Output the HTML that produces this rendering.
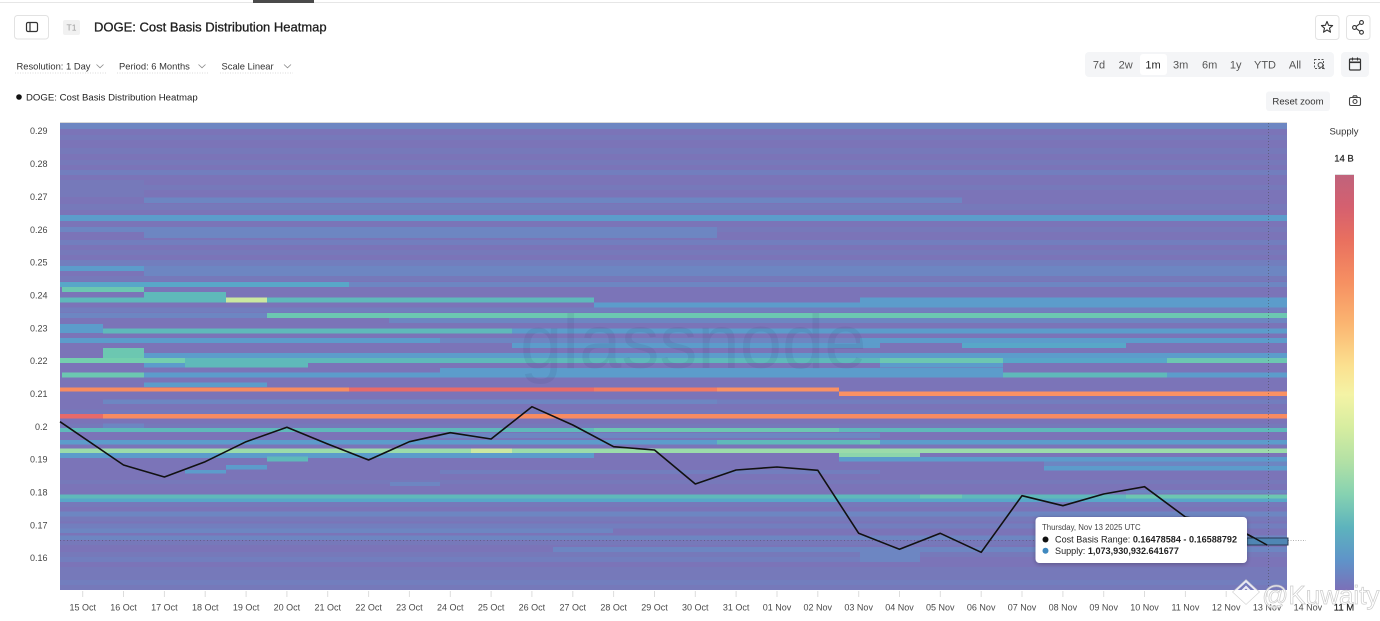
<!DOCTYPE html>
<html><head><meta charset="utf-8">
<style>
html,body{margin:0;padding:0;background:#fff;}
body{width:1380px;height:621px;overflow:hidden;position:relative;font-family:"Liberation Sans",sans-serif;}
svg{position:absolute;left:0;top:0;}
.P{fill:#7b74b8}.P2{fill:#7679ba}.P3{fill:#727ebe}.B1{fill:#6d86c2}.B2{fill:#5c9ccb}.B3{fill:#58a7c8}
.T{fill:#5fb9ba}.G{fill:#6cc7b1}.G2{fill:#74cfae}.LG{fill:#9bdbaa}.LG2{fill:#8dd6ab}.Y{fill:#cbe8a0}
.O{fill:#f88b60}.O2{fill:#fa9163}.OR{fill:#f27a63}.R{fill:#e86a69}
text{font-family:"Liberation Sans",sans-serif;}
</style></head><body>
<svg width="1380" height="621" viewBox="0 0 1380 621" xmlns="http://www.w3.org/2000/svg">
<defs>
<linearGradient id="cb" x1="0" y1="0" x2="0" y2="1">
<stop offset="0" stop-color="#bf637c"/>
<stop offset="0.08" stop-color="#d5606f"/>
<stop offset="0.16" stop-color="#e9705f"/>
<stop offset="0.26" stop-color="#f69062"/>
<stop offset="0.36" stop-color="#fbb571"/>
<stop offset="0.46" stop-color="#fbe08f"/>
<stop offset="0.53" stop-color="#f4f3a5"/>
<stop offset="0.61" stop-color="#d6eda0"/>
<stop offset="0.69" stop-color="#b3e1a5"/>
<stop offset="0.77" stop-color="#86d2b1"/>
<stop offset="0.85" stop-color="#5db3bd"/>
<stop offset="0.93" stop-color="#5f93c9"/>
<stop offset="1" stop-color="#7b70b8"/>
</linearGradient>
<filter id="sh" x="-10%" y="-20%" width="120%" height="150%">
<feDropShadow dx="0" dy="1" stdDeviation="2.5" flood-color="#000" flood-opacity="0.28"/>
</filter>
</defs>

<!-- top border -->
<rect x="0" y="2" width="1380" height="1" fill="#e6e6e6"/>
<rect x="253" y="0" width="61" height="3" fill="#4a4a4a"/>

<!-- sidebar button -->
<rect x="14.5" y="15.5" width="34" height="23.5" rx="3" fill="#fff" stroke="#e2e2e2"/>
<rect x="26.5" y="22.5" width="11" height="9" rx="1.5" fill="none" stroke="#333" stroke-width="1.2"/>
<line x1="30" y1="22.5" x2="30" y2="31.5" stroke="#333" stroke-width="1.2"/>
<!-- T1 -->
<rect x="63" y="20" width="17" height="15" rx="2" fill="#f1f1f1"/>
<text x="71.5" y="30.5" font-size="8.5" fill="#999" text-anchor="middle">T1</text>
<text x="94" y="31.7" font-size="13" fill="#1e1e1e" stroke="#1e1e1e" stroke-width="0.3">DOGE: Cost Basis Distribution Heatmap</text>

<!-- star / share -->
<rect x="1315.5" y="15.5" width="23.5" height="24" rx="3" fill="#fff" stroke="#e3e3e3"/>
<polygon points="1327,21.5 1328.6,25.3 1332.6,25.6 1329.5,28.2 1330.5,32.2 1327,30 1323.5,32.2 1324.5,28.2 1321.4,25.6 1325.4,25.3" fill="none" stroke="#333" stroke-width="1.1" stroke-linejoin="round"/>
<rect x="1346.5" y="15.5" width="23.5" height="24" rx="3" fill="#fff" stroke="#e3e3e3"/>
<g fill="none" stroke="#333" stroke-width="1.1">
<circle cx="1361.5" cy="22.5" r="1.9"/><circle cx="1354.5" cy="27.5" r="1.9"/><circle cx="1361.5" cy="32.3" r="1.9"/>
<line x1="1356.2" y1="26.4" x2="1359.8" y2="23.7"/><line x1="1356.2" y1="28.6" x2="1359.8" y2="31.2"/>
</g>

<!-- dropdowns -->
<g font-size="9.4" fill="#333">
<text x="16.5" y="69.5">Resolution: 1 Day</text>
<text x="119" y="69.5">Period: 6 Months</text>
<text x="221.5" y="69.5">Scale Linear</text>
</g>
<g fill="none" stroke="#8a8a8a" stroke-width="0.8">
<polyline points="96.5,64.5 100,67.8 103.5,64.5"/>
<polyline points="198.5,64.5 202,67.8 205.5,64.5"/>
<polyline points="284,64.5 287.5,67.8 291,64.5"/>
</g>
<g stroke="#cfcfcf" stroke-width="0.8" stroke-dasharray="1,1.5">
<line x1="15" y1="73" x2="106" y2="73"/>
<line x1="117" y1="73" x2="208" y2="73"/>
<line x1="220" y1="73" x2="293" y2="73"/>
</g>
<circle cx="19" cy="97" r="2.8" fill="#111"/>
<text x="26" y="100.4" font-size="9.6" fill="#222">DOGE: Cost Basis Distribution Heatmap</text>

<!-- range buttons -->
<rect x="1085" y="52" width="249" height="25" rx="4" fill="#f4f5f7"/>
<rect x="1140" y="54" width="27" height="21" rx="3" fill="#fff"/>
<g font-size="11" fill="#555" text-anchor="middle">
<text x="1099" y="68.5">7d</text>
<text x="1125.7" y="68.5">2w</text>
<text x="1153" y="68.5" fill="#222">1m</text>
<text x="1180.7" y="68.5">3m</text>
<text x="1209.7" y="68.5">6m</text>
<text x="1235.7" y="68.5">1y</text>
<text x="1265" y="68.5">YTD</text>
<text x="1295" y="68.5">All</text>
</g>
<rect x="1314.5" y="59.5" width="9" height="9" fill="none" stroke="#555" stroke-width="1" stroke-dasharray="2,1.5"/>
<circle cx="1320.5" cy="65" r="2.4" fill="#f4f5f7" stroke="#444" stroke-width="1"/>
<line x1="1322.3" y1="66.8" x2="1324.5" y2="69" stroke="#444" stroke-width="1"/>
<rect x="1341" y="52" width="28" height="25" rx="4" fill="#f4f5f7"/>
<rect x="1349.5" y="59" width="11" height="11" rx="1" fill="none" stroke="#333" stroke-width="1.2"/>
<line x1="1349.5" y1="62.3" x2="1360.5" y2="62.3" stroke="#333" stroke-width="1.6"/>
<line x1="1352.5" y1="57.5" x2="1352.5" y2="60.5" stroke="#333" stroke-width="1.1"/>
<line x1="1357.5" y1="57.5" x2="1357.5" y2="60.5" stroke="#333" stroke-width="1.1"/>

<!-- reset zoom & camera -->
<rect x="1266" y="91.5" width="64" height="19.5" rx="3" fill="#f4f5f7"/>
<text x="1298" y="104.6" font-size="9.6" fill="#333" text-anchor="middle">Reset zoom</text>
<rect x="1349.5" y="97.5" width="11" height="8" rx="1.5" fill="none" stroke="#444" stroke-width="1.1"/>
<path d="M1352.5 97.5 L1353.5 95.8 L1356.5 95.8 L1357.5 97.5" fill="none" stroke="#444" stroke-width="1.1"/>
<circle cx="1355" cy="101.5" r="2" fill="none" stroke="#444" stroke-width="1.1"/>

<!-- colorbar -->
<text x="1344" y="134.5" font-size="9.5" fill="#333" text-anchor="middle">Supply</text>
<text x="1344" y="161.5" font-size="9.5" fill="#222" text-anchor="middle" stroke="#222" stroke-width="0.2">14 B</text>
<rect x="1335" y="174" width="19" height="416" fill="url(#cb)"/>
<rect x="1335" y="174" width="19" height="1" fill="#e0e0e0"/>
<text x="1344" y="610.5" font-size="9.5" fill="#222" text-anchor="middle" stroke="#222" stroke-width="0.2">11 M</text>

<!-- plot border top -->
<rect x="60" y="122" width="1227" height="1" fill="#d8d8d8"/>

<!-- HEATMAP -->
<g shape-rendering="crispEdges">
<rect x="60" y="123" width="1227" height="467" class="P"/>
<rect x="60" y="123" width="1227" height="6" class="B1"/>
<rect x="60" y="135" width="1227" height="5" class="P2"/>
<rect x="60" y="148" width="1227" height="6" class="P2"/>
<rect x="60" y="160" width="1227" height="5" class="P2"/>
<rect x="60" y="170" width="1227" height="5" class="P3"/>
<rect x="60" y="180" width="84" height="17" class="P2"/>
<rect x="144" y="185" width="1143" height="5" class="P2"/>
<rect x="144" y="197.5" width="818" height="5.5" class="B1"/>
<rect x="60" y="204" width="1227" height="6" class="P2"/>
<rect x="60" y="215" width="1227" height="6" class="B2"/>
<rect x="60" y="227" width="84" height="5" class="B1"/>
<rect x="144" y="227" width="573" height="11" class="B1"/>
<rect x="717" y="227" width="570" height="5" class="P2"/>
<rect x="60" y="240" width="1227" height="5" class="P3"/>
<rect x="60" y="250" width="1227" height="5" class="P2"/>
<rect x="60" y="260" width="1227" height="6" class="P3"/>
<rect x="60" y="266" width="84" height="5" class="B2"/>
<rect x="144" y="266" width="1143" height="10" class="B1"/>
<rect x="60" y="276" width="1227" height="5" class="P2"/>
<rect x="60" y="282" width="289" height="5" class="B3"/>
<rect x="349" y="282" width="938" height="5" class="B1"/>
<rect x="62" y="287" width="82" height="5" class="G"/>
<rect x="144" y="292" width="82" height="5.7" class="T"/>
<rect x="60" y="297.7" width="166" height="5" class="T"/>
<rect x="226" y="297.7" width="41" height="5" class="Y"/>
<rect x="267" y="297.7" width="327" height="5" class="T"/>
<rect x="594" y="302.7" width="693" height="5" class="B2"/>
<rect x="860" y="297.7" width="427" height="5" class="B2"/>
<rect x="60" y="307.7" width="1227" height="5" class="P3"/>
<rect x="60" y="313" width="207" height="5" class="B1"/>
<rect x="267" y="313" width="1020" height="5" class="G"/>
<rect x="389" y="318" width="898" height="5" class="B1"/>
<rect x="60" y="324" width="43" height="9" class="B2"/>
<rect x="103" y="328.3" width="409" height="5" class="T"/>
<rect x="512" y="328.3" width="775" height="5" class="B2"/>
<rect x="60" y="338" width="1227" height="5" class="B1"/>
<rect x="60" y="338" width="380" height="5" class="B2"/>
<rect x="860" y="338" width="427" height="5" class="B2"/>
<rect x="512" y="343" width="368" height="5" class="B2"/>
<rect x="962" y="343" width="164" height="5" class="B3"/>
<rect x="103" y="348" width="41" height="5" class="G"/>
<rect x="144" y="353" width="1143" height="5" class="B2"/>
<rect x="103" y="353" width="41" height="5" class="G"/>
<rect x="60" y="358" width="125" height="5" class="G2"/>
<rect x="185" y="358" width="695" height="5" class="T"/>
<rect x="880" y="358" width="123" height="5" class="G"/>
<rect x="1003" y="358" width="164" height="5" class="B3"/>
<rect x="1167" y="358" width="120" height="5" class="G"/>
<rect x="144" y="363" width="41" height="4.5" class="B2"/>
<rect x="185" y="363" width="123" height="4.5" class="T"/>
<rect x="880" y="363" width="123" height="4.5" class="B2"/>
<rect x="440" y="368" width="563" height="4.5" class="B2"/>
<rect x="62" y="372.3" width="82" height="5" class="G"/>
<rect x="144" y="372.3" width="859" height="5" class="B2"/>
<rect x="1003" y="372.3" width="164" height="5" class="T"/>
<rect x="1167" y="372.3" width="120" height="5" class="B2"/>
<rect x="144" y="382.3" width="123" height="4.5" class="B2"/>
<rect x="60" y="387.3" width="289" height="4.2" class="O"/>
<rect x="349" y="387.3" width="245" height="4.2" class="R"/>
<rect x="594" y="387.3" width="123" height="4.2" class="OR"/>
<rect x="717" y="387.3" width="122" height="4.2" class="O2"/>
<rect x="839" y="391.7" width="448" height="4.2" class="O2"/>
<rect x="103" y="399.3" width="614" height="4.5" class="B1"/>
<rect x="717" y="399.3" width="570" height="4.5" class="P3"/>
<rect x="60" y="409.3" width="1227" height="4.5" class="P2"/>
<rect x="60" y="414" width="43" height="4.3" class="R"/>
<rect x="103" y="414" width="1184" height="4.3" class="O"/>
<rect x="60" y="423.3" width="1227" height="4.5" class="P2"/>
<rect x="103" y="423.3" width="41" height="4.5" class="B1"/>
<rect x="60" y="428" width="1227" height="4.2" class="T"/>
<rect x="594" y="428" width="245" height="4.2" class="G"/>
<rect x="440" y="433" width="440" height="5" class="B1"/>
<rect x="60" y="440" width="1227" height="4.3" class="B2"/>
<rect x="717" y="440" width="163" height="4.3" class="T"/>
<rect x="860" y="440" width="20" height="4.3" class="G"/>
<rect x="60" y="448.5" width="1227" height="4.5" class="LG"/>
<rect x="471" y="448.5" width="41" height="4.5" class="Y"/>
<rect x="60" y="453" width="534" height="5" class="B2"/>
<rect x="839" y="453" width="81" height="4" class="LG2"/>
<rect x="920" y="457" width="367" height="4.5" class="B2"/>
<rect x="839" y="457" width="81" height="4.5" class="B2"/>
<rect x="267" y="456.7" width="41" height="5" class="T"/>
<rect x="1044" y="461.5" width="243" height="4.5" class="B1"/>
<rect x="226" y="465" width="41" height="4.5" class="B2"/>
<rect x="1044" y="466" width="243" height="4.5" class="B2"/>
<rect x="185" y="470" width="41" height="3.5" class="B2"/>
<rect x="440" y="470" width="440" height="4" class="P3"/>
<rect x="60" y="480" width="1227" height="4" class="P2"/>
<rect x="390" y="482" width="50" height="4" class="B1"/>
<rect x="1126" y="490" width="161" height="3.5" class="B1"/>
<rect x="60" y="494.3" width="1227" height="4" class="T"/>
<rect x="920" y="494.3" width="42" height="4" class="G"/>
<rect x="1126" y="494.3" width="161" height="4" class="G"/>
<rect x="60" y="498.3" width="1227" height="3.5" class="B3"/>
<rect x="60" y="501.8" width="1227" height="5" class="P2"/>
<rect x="60" y="511.7" width="1227" height="5" class="B1"/>
<rect x="60" y="516.7" width="1227" height="5" class="P2"/>
<rect x="60" y="523.3" width="1227" height="5" class="P3"/>
<rect x="60" y="528.3" width="553" height="4.5" class="B1"/>
<rect x="60" y="535.7" width="1227" height="4.5" class="B1"/>
<rect x="60" y="541" width="1227" height="4" class="P2"/>
<rect x="553" y="547" width="734" height="5" class="B1"/>
<rect x="60" y="552" width="1227" height="5" class="P2"/>
<rect x="860" y="552" width="60" height="10" class="B1"/>
<rect x="60" y="557" width="800" height="5" class="P3"/>
<rect x="60" y="567" width="1227" height="5" class="P2"/>
<rect x="60" y="572" width="1227" height="18" class="P2"/>
<rect x="60" y="580" width="1227" height="5" class="P3"/>
</g>

<!-- glassnode watermark -->
<text x="520" y="368" font-size="76" fill="#2e3a6a" opacity="0.09">glassnode</text>

<!-- crosshairs -->
<line x1="1268.5" y1="123" x2="1268.5" y2="590" stroke="#444" stroke-width="0.8" stroke-dasharray="1,2" opacity="0.6"/>
<line x1="60" y1="540.5" x2="1287" y2="540.5" stroke="#333" stroke-width="0.8" stroke-dasharray="1,2.5" opacity="0.45"/>
<line x1="1288" y1="540.5" x2="1306" y2="540.5" stroke="#999" stroke-width="0.8" stroke-dasharray="1,1.5"/>

<!-- price line -->
<polyline fill="none" stroke="#111" stroke-width="1.6" stroke-linejoin="round" points="60,421.7 123.5,465 164.4,477 205.2,461.7 246.1,441.7 286.9,427.3 327.7,444 368.6,460 409.4,441.7 450.3,432.7 491.1,439 531.9,406.7 572.8,425 613.6,446.7 654.5,450 695.3,484 736.1,470 777,467 817.8,470.3 858.7,533.3 899.5,549.3 940.3,533.3 981.2,552.3 1022,495.7 1062.9,505.7 1103.7,494 1144.5,486.7 1185.4,517 1226.2,523 1267.1,545"/>

<!-- hovered cell -->
<rect x="1247" y="538" width="41" height="7" fill="#4f86b4" stroke="#2b3b55" stroke-width="1"/>
<polyline fill="none" stroke="#111" stroke-width="1.4" points="1247,534 1267.1,545"/>

<!-- x ticks & labels -->
<g stroke="#dcdcdc" stroke-width="1">
<line x1="82.7" y1="591" x2="82.7" y2="597"/><line x1="123.5" y1="591" x2="123.5" y2="597"/><line x1="164.4" y1="591" x2="164.4" y2="597"/><line x1="205.2" y1="591" x2="205.2" y2="597"/><line x1="246.1" y1="591" x2="246.1" y2="597"/><line x1="286.9" y1="591" x2="286.9" y2="597"/><line x1="327.7" y1="591" x2="327.7" y2="597"/><line x1="368.6" y1="591" x2="368.6" y2="597"/><line x1="409.4" y1="591" x2="409.4" y2="597"/><line x1="450.3" y1="591" x2="450.3" y2="597"/><line x1="491.1" y1="591" x2="491.1" y2="597"/><line x1="531.9" y1="591" x2="531.9" y2="597"/><line x1="572.8" y1="591" x2="572.8" y2="597"/><line x1="613.6" y1="591" x2="613.6" y2="597"/><line x1="654.5" y1="591" x2="654.5" y2="597"/><line x1="695.3" y1="591" x2="695.3" y2="597"/><line x1="736.1" y1="591" x2="736.1" y2="597"/><line x1="777" y1="591" x2="777" y2="597"/><line x1="817.8" y1="591" x2="817.8" y2="597"/><line x1="858.7" y1="591" x2="858.7" y2="597"/><line x1="899.5" y1="591" x2="899.5" y2="597"/><line x1="940.3" y1="591" x2="940.3" y2="597"/><line x1="981.2" y1="591" x2="981.2" y2="597"/><line x1="1022" y1="591" x2="1022" y2="597"/><line x1="1062.9" y1="591" x2="1062.9" y2="597"/><line x1="1103.7" y1="591" x2="1103.7" y2="597"/><line x1="1144.5" y1="591" x2="1144.5" y2="597"/><line x1="1185.4" y1="591" x2="1185.4" y2="597"/><line x1="1226.2" y1="591" x2="1226.2" y2="597"/><line x1="1267.1" y1="591" x2="1267.1" y2="597"/><line x1="1307.9" y1="591" x2="1307.9" y2="597"/>
</g>
<g font-size="9" fill="#4a4a4a" text-anchor="middle">
<text x="82.7" y="610.3">15 Oct</text><text x="123.5" y="610.3">16 Oct</text><text x="164.4" y="610.3">17 Oct</text><text x="205.2" y="610.3">18 Oct</text><text x="246.1" y="610.3">19 Oct</text><text x="286.9" y="610.3">20 Oct</text><text x="327.7" y="610.3">21 Oct</text><text x="368.6" y="610.3">22 Oct</text><text x="409.4" y="610.3">23 Oct</text><text x="450.3" y="610.3">24 Oct</text><text x="491.1" y="610.3">25 Oct</text><text x="531.9" y="610.3">26 Oct</text><text x="572.8" y="610.3">27 Oct</text><text x="613.6" y="610.3">28 Oct</text><text x="654.5" y="610.3">29 Oct</text><text x="695.3" y="610.3">30 Oct</text><text x="736.1" y="610.3">31 Oct</text><text x="777" y="610.3">01 Nov</text><text x="817.8" y="610.3">02 Nov</text><text x="858.7" y="610.3">03 Nov</text><text x="899.5" y="610.3">04 Nov</text><text x="940.3" y="610.3">05 Nov</text><text x="981.2" y="610.3">06 Nov</text><text x="1022" y="610.3">07 Nov</text><text x="1062.9" y="610.3">08 Nov</text><text x="1103.7" y="610.3">09 Nov</text><text x="1144.5" y="610.3">10 Nov</text><text x="1185.4" y="610.3">11 Nov</text><text x="1226.2" y="610.3">12 Nov</text><text x="1267.1" y="610.3">13 Nov</text><text x="1307.9" y="610.3">14 Nov</text>
</g>

<!-- y labels -->
<g font-size="9" fill="#444" text-anchor="end">
<text x="47.5" y="134.2">0.29</text><text x="47.5" y="167.1">0.28</text><text x="47.5" y="199.9">0.27</text><text x="47.5" y="232.8">0.26</text><text x="47.5" y="265.6">0.25</text><text x="47.5" y="298.5">0.24</text><text x="47.5" y="331.3">0.23</text><text x="47.5" y="364.2">0.22</text><text x="47.5" y="397">0.21</text><text x="47.5" y="429.9">0.2</text><text x="47.5" y="462.7">0.19</text><text x="47.5" y="495.6">0.18</text><text x="47.5" y="528.4">0.17</text><text x="47.5" y="561.2">0.16</text>
</g>

<!-- tooltip -->
<rect x="1035.5" y="517" width="211.5" height="46" rx="4" fill="#fff" filter="url(#sh)"/>
<text x="1042" y="529.8" font-size="7.8" fill="#444">Thursday, Nov 13 2025 UTC</text>
<circle cx="1045.5" cy="539.5" r="3" fill="#111"/>
<text x="1055" y="542.7" font-size="9.1" fill="#222">Cost Basis Range: <tspan font-weight="bold">0.16478584 - 0.16588792</tspan></text>
<circle cx="1045.5" cy="550.8" r="3" fill="#3f89bf"/>
<text x="1055" y="554" font-size="9.1" fill="#222">Supply: <tspan font-weight="bold">1,073,930,932.641677</tspan></text>

<!-- Kuwaity watermark -->
<g opacity="0.85">
<g fill="none" stroke="#fff" stroke-width="2.2">
<polygon points="1246,581 1258,592 1246,603 1234,592"/>
<polygon points="1246,587 1251,592 1246,597 1241,592"/>
</g>
<g fill="none" stroke="#c9c9c9" stroke-width="0.6">
<polygon points="1246,579.5 1259.5,592 1246,604.5 1232.5,592"/>
</g>
<text x="1262" y="604" font-size="26" fill="#fff" stroke="#c4c4c4" stroke-width="0.7">@Kuwaity</text>
</g>
</svg>
</body></html>
